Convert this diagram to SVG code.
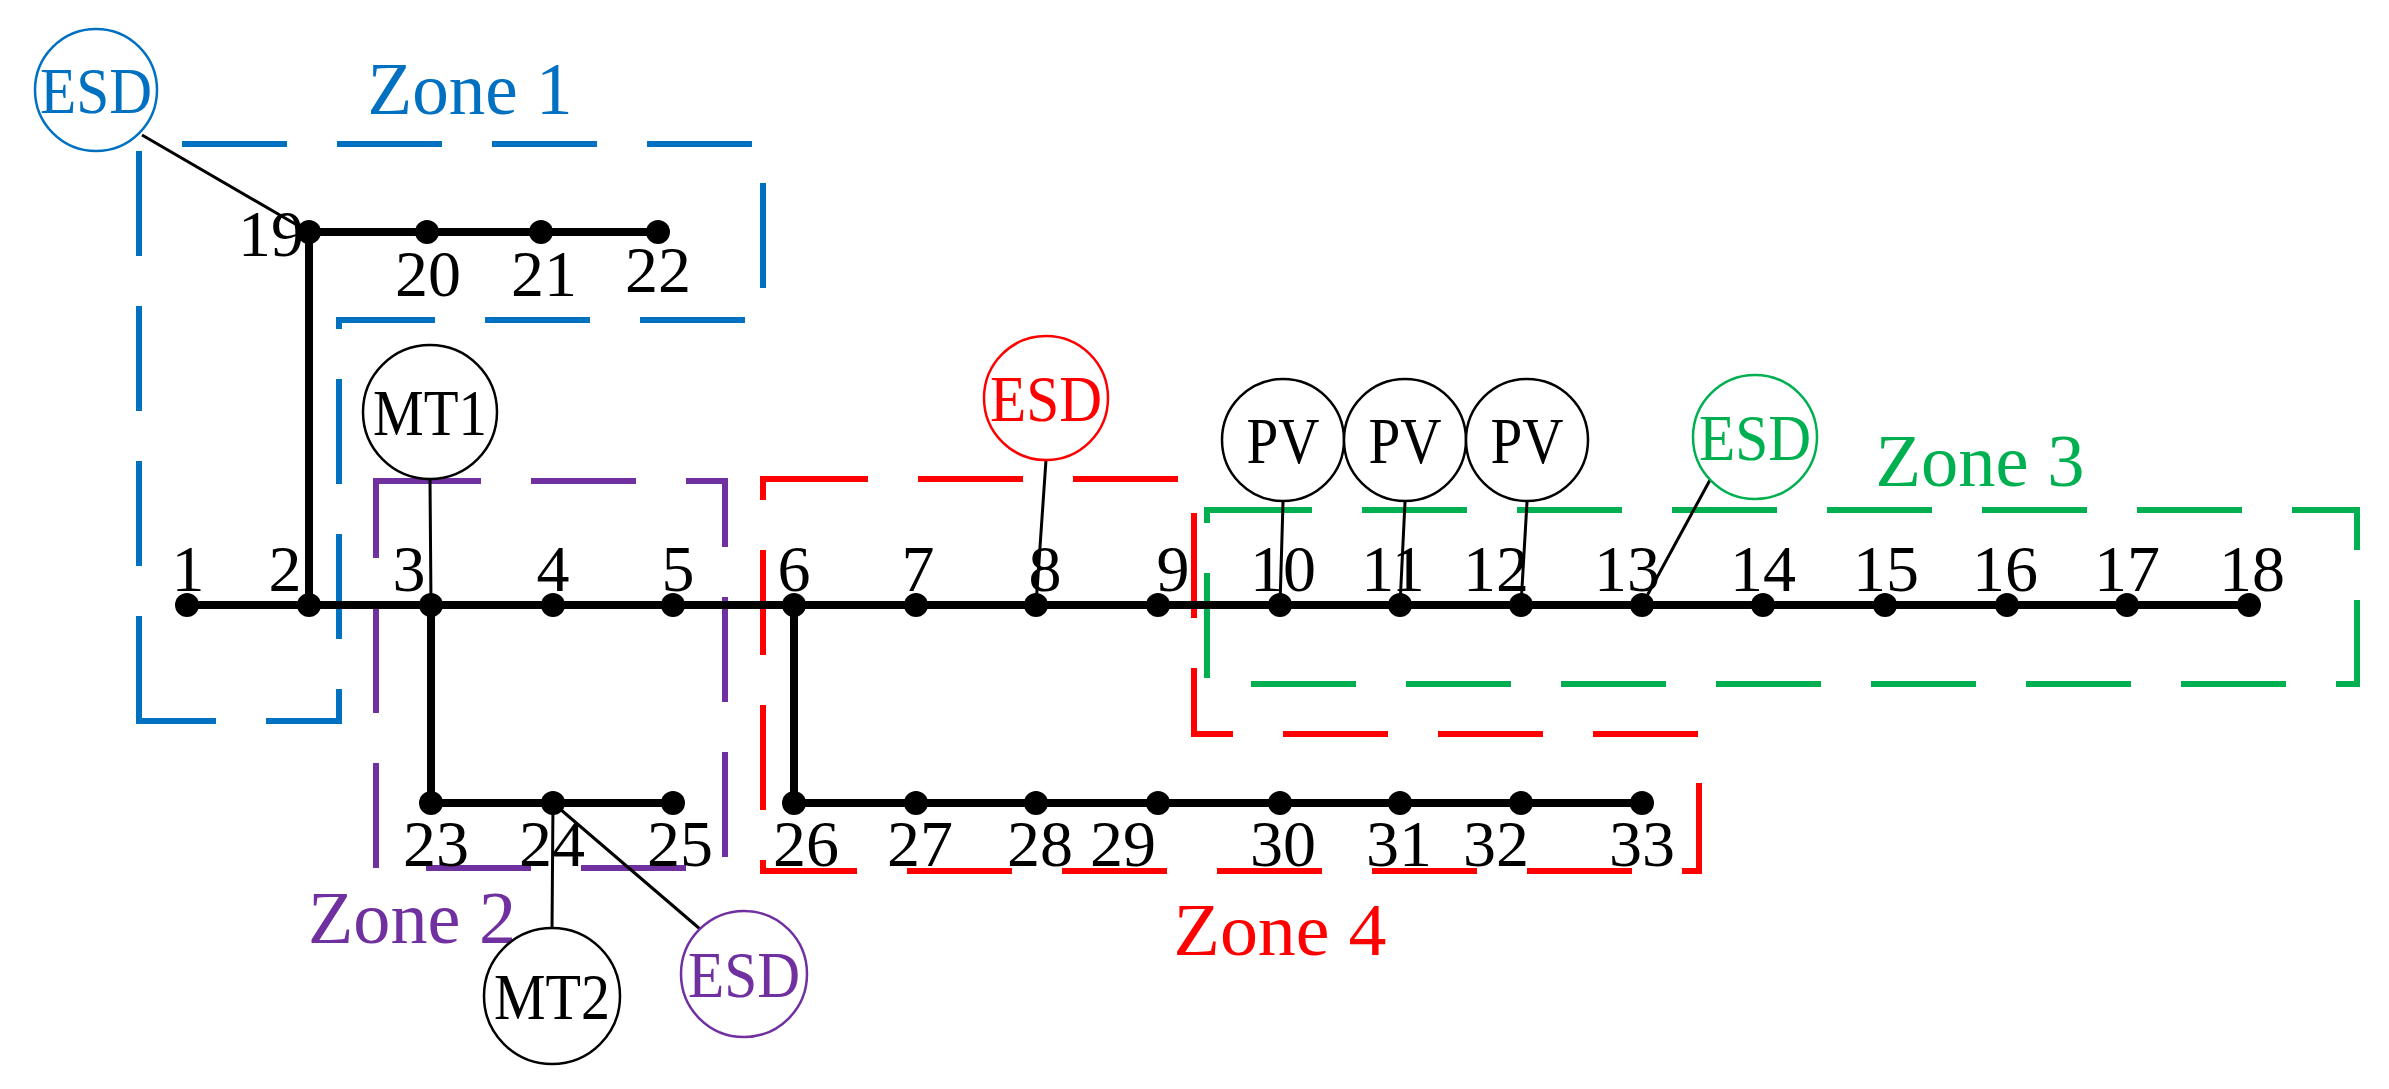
<svg xmlns="http://www.w3.org/2000/svg" width="2389" height="1089" viewBox="0 0 2389 1089">
<style>
text{font-family:"Liberation Serif","Times New Roman",serif;text-anchor:middle}
.n{font-size:66px;fill:#000}
.z{font-size:74px}
.bus{stroke:#000;stroke-width:8;fill:none}
.th{stroke:#000;stroke-width:3;fill:none}
.dot{fill:#000}
.zone{fill:none;stroke-width:6;stroke-dasharray:105 50}
.dev{fill:#fff;stroke-width:2.5}
</style>
<rect width="2389" height="1089" fill="#fff"/>
<g id="zones">
<path class="zone" stroke="#0070C0" d="M139,721 V144 H763 V320 H339 V721 Z"/>
<path class="zone" stroke="#7030A0" d="M376,481 H725 V868 H376 Z"/>
<path class="zone" stroke="#FF0000" d="M763,479 H1194 V734 H1699 V871 H763 Z"/>
<path class="zone" stroke="#00B050" d="M1207,510 H2357 V684 H1207 Z"/>
<text class="z" fill="#0070C0" x="470" y="114" textLength="205" lengthAdjust="spacingAndGlyphs">Zone 1</text>
<text class="z" fill="#7030A0" x="412" y="943" textLength="208" lengthAdjust="spacingAndGlyphs">Zone 2</text>
<text class="z" fill="#00B050" x="1980" y="486" textLength="209" lengthAdjust="spacingAndGlyphs">Zone 3</text>
<text class="z" fill="#FF0000" x="1280" y="955" textLength="213" lengthAdjust="spacingAndGlyphs">Zone 4</text>
</g>
<g id="connectors">
<path class="bus" d="M187,605 H2249 M309,232 V605 M309,232 H658 M431,605 V803 M431,803 H673 M794,605 V803 M794,803 H1642"/>
<path class="th" d="M142,135 L309,232 M430,479 L431,605 M1046,460 L1036,605 M552,929 L553,803 M700,929 L553,803 M1283,502 L1280,605 M1405,502 L1400,605 M1527,502 L1521,605 M1710,480 L1642,605"/>
</g>
<g id="nodes">
<g class="dot">
<circle cx="187" cy="605" r="12"/><circle cx="309" cy="605" r="12"/><circle cx="431" cy="605" r="12"/><circle cx="553" cy="605" r="12"/><circle cx="673" cy="605" r="12"/><circle cx="794" cy="605" r="12"/><circle cx="916" cy="605" r="12"/><circle cx="1036" cy="605" r="12"/><circle cx="1158" cy="605" r="12"/><circle cx="1280" cy="605" r="12"/><circle cx="1400" cy="605" r="12"/><circle cx="1521" cy="605" r="12"/><circle cx="1642" cy="605" r="12"/><circle cx="1763" cy="605" r="12"/><circle cx="1885" cy="605" r="12"/><circle cx="2007" cy="605" r="12"/><circle cx="2127" cy="605" r="12"/><circle cx="2249" cy="605" r="12"/>
<circle cx="309" cy="232" r="12"/><circle cx="427" cy="232" r="12"/><circle cx="541" cy="232" r="12"/><circle cx="658" cy="232" r="12"/>
<circle cx="431" cy="803" r="12"/><circle cx="553" cy="803" r="12"/><circle cx="673" cy="803" r="12"/><circle cx="794" cy="803" r="12"/><circle cx="916" cy="803" r="12"/><circle cx="1036" cy="803" r="12"/><circle cx="1158" cy="803" r="12"/><circle cx="1280" cy="803" r="12"/><circle cx="1400" cy="803" r="12"/><circle cx="1521" cy="803" r="12"/><circle cx="1642" cy="803" r="12"/>
</g>
<g>
<text x="188" y="591" class="n">1</text><text x="285" y="591" class="n">2</text><text x="409" y="591" class="n">3</text><text x="553" y="591" class="n">4</text><text x="678" y="591" class="n">5</text><text x="794" y="591" class="n">6</text><text x="918" y="591" class="n">7</text><text x="1045" y="591" class="n">8</text><text x="1173" y="591" class="n">9</text><text x="1283" y="591" class="n">10</text><text x="1393" y="591" class="n">11</text><text x="1496" y="591" class="n">12</text><text x="1627" y="591" class="n">13</text><text x="1763" y="591" class="n">14</text><text x="1886" y="591" class="n">15</text><text x="2005" y="591" class="n">16</text><text x="2127" y="591" class="n">17</text><text x="2252" y="591" class="n">18</text>
<text x="271" y="256" class="n">19</text><text x="428" y="296" class="n">20</text><text x="544" y="296" class="n">21</text><text x="658" y="292" class="n">22</text>
<text x="436" y="866" class="n">23</text><text x="552" y="866" class="n">24</text><text x="680" y="866" class="n">25</text><text x="806" y="866" class="n">26</text><text x="920" y="866" class="n">27</text><text x="1040" y="866" class="n">28</text><text x="1123" y="866" class="n">29</text><text x="1283" y="866" class="n">30</text><text x="1399" y="866" class="n">31</text><text x="1496" y="866" class="n">32</text><text x="1642" y="866" class="n">33</text>
</g>
</g>
<g id="esd1"><circle class="dev" stroke="#0070C0" cx="96" cy="90" r="61"/><text class="n" style="fill:#0070C0" x="96" y="113" textLength="112" lengthAdjust="spacingAndGlyphs">ESD</text></g>
<g id="mt1"><circle class="dev" stroke="#000" cx="430" cy="412" r="67"/><text class="n" x="430" y="435" textLength="114" lengthAdjust="spacingAndGlyphs">MT1</text></g>
<g id="esd4"><circle class="dev" stroke="#FF0000" cx="1046" cy="398" r="62"/><text class="n" style="fill:#FF0000" x="1046" y="421" textLength="112" lengthAdjust="spacingAndGlyphs">ESD</text></g>
<g id="mt2"><circle class="dev" stroke="#000" cx="552" cy="996" r="68"/><text class="n" x="552" y="1019" textLength="116" lengthAdjust="spacingAndGlyphs">MT2</text></g>
<g id="esd2"><circle class="dev" stroke="#7030A0" cx="744" cy="974" r="63"/><text class="n" style="fill:#7030A0" x="744" y="997" textLength="112" lengthAdjust="spacingAndGlyphs">ESD</text></g>
<g id="pv10"><circle class="dev" stroke="#000" cx="1283" cy="440" r="61"/><text class="n" x="1283" y="463" textLength="73" lengthAdjust="spacingAndGlyphs">PV</text></g>
<g id="pv11"><circle class="dev" stroke="#000" cx="1405" cy="440" r="61"/><text class="n" x="1405" y="463" textLength="73" lengthAdjust="spacingAndGlyphs">PV</text></g>
<g id="pv12"><circle class="dev" stroke="#000" cx="1527" cy="440" r="61"/><text class="n" x="1527" y="463" textLength="73" lengthAdjust="spacingAndGlyphs">PV</text></g>
<g id="esd3"><circle class="dev" stroke="#00B050" cx="1755" cy="437" r="62"/><text class="n" style="fill:#00B050" x="1755" y="460" textLength="112" lengthAdjust="spacingAndGlyphs">ESD</text></g>
</svg>
